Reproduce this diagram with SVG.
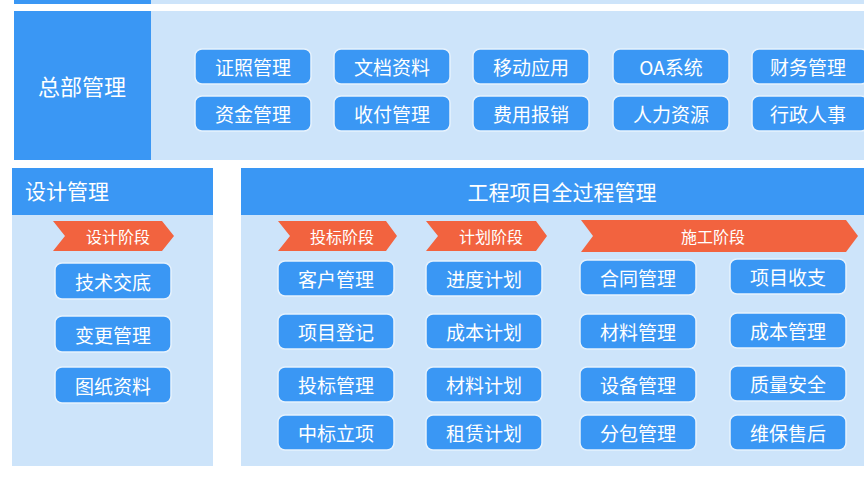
<svg xmlns="http://www.w3.org/2000/svg" width="864" height="486" viewBox="0 0 864 486">
<style>
.blue{fill:#3a97f4}.light{fill:#cde4fa}
.btn rect{fill:#3a97f4;stroke:#e6f2fd;stroke-width:1.5}
.btn text,.t{font-family:"Noto Sans CJK SC",sans-serif;fill:#fff;text-anchor:middle;dominant-baseline:central}
.btn text{font-size:19px}
.arr{fill:#f2633f}
</style>
<rect width="864" height="486" fill="#fff"/>
<rect x="151" y="0" width="713" height="4" class="light"/>
<rect x="14" y="0" width="137" height="4" class="blue"/>
<g id="hq">
<rect x="151" y="11" width="713" height="149" class="light"/>
<rect x="14" y="11" width="137" height="149" class="blue"/>
<text class="t" x="82" y="85" font-size="22">总部管理</text>
<g class="btn">
<rect x="195" y="49" width="116" height="35" rx="7"/><text x="253" y="66.5">证照管理</text>
<rect x="334" y="49" width="116" height="35" rx="7"/><text x="392" y="66.5">文档资料</text>
<rect x="473" y="49" width="116" height="35" rx="7"/><text x="531" y="66.5">移动应用</text>
<rect x="613" y="49" width="116" height="35" rx="7"/><text x="671" y="66.5">OA系统</text>
<rect x="752" y="49" width="116" height="35" rx="7"/><text x="808" y="66.5">财务管理</text>
<rect x="195" y="96" width="116" height="35" rx="7"/><text x="253" y="113.5">资金管理</text>
<rect x="334" y="96" width="116" height="35" rx="7"/><text x="392" y="113.5">收付管理</text>
<rect x="473" y="96" width="116" height="35" rx="7"/><text x="531" y="113.5">费用报销</text>
<rect x="613" y="96" width="116" height="35" rx="7"/><text x="671" y="113.5">人力资源</text>
<rect x="752" y="96" width="116" height="35" rx="7"/><text x="808" y="113.5">行政人事</text>
</g>
</g>
<g id="design">
<rect x="12" y="168" width="201" height="298" class="light"/>
<rect x="12" y="168" width="201" height="47" class="blue"/>
<text class="t" x="25" y="190" font-size="21" text-anchor="start" style="text-anchor:start">设计管理</text>
<polygon class="arr" points="53,221 162,221 174,236 162,251 53,251 65,236"/>
<text class="t" x="118" y="236" font-size="16">设计阶段</text>
<g class="btn">
<rect x="55" y="263" width="116" height="36" rx="7"/><text x="113" y="281">技术交底</text>
<rect x="55" y="316" width="116" height="36" rx="7"/><text x="113" y="334">变更管理</text>
<rect x="55" y="367" width="116" height="36" rx="7"/><text x="113" y="385">图纸资料</text>
</g>
</g>
<g id="project">
<rect x="241" y="168" width="623" height="298" class="light"/>
<rect x="241" y="168" width="623" height="47" class="blue"/>
<text class="t" x="562" y="191" font-size="21">工程项目全过程管理</text>
<polygon class="arr" points="278,221 386,221 397,236 386,251 278,251 290,236"/>
<text class="t" x="342" y="236" font-size="16">投标阶段</text>
<polygon class="arr" points="426,221 536,221 547,236 536,251 426,251 438,236"/>
<text class="t" x="491" y="236" font-size="16">计划阶段</text>
<polygon class="arr" points="581,220 846,220 858,236 846,252 581,252 593,236"/>
<text class="t" x="713" y="236" font-size="16">施工阶段</text>
<g class="btn">
<rect x="278" y="261" width="116" height="35" rx="7"/><text x="336" y="278.5">客户管理</text>
<rect x="278" y="314" width="116" height="35" rx="7"/><text x="336" y="331.5">项目登记</text>
<rect x="278" y="367" width="116" height="35" rx="7"/><text x="336" y="384.5">投标管理</text>
<rect x="278" y="415" width="116" height="35" rx="7"/><text x="336" y="432.5">中标立项</text>
<rect x="426" y="261" width="116" height="35" rx="7"/><text x="484" y="278.5">进度计划</text>
<rect x="426" y="314" width="116" height="35" rx="7"/><text x="484" y="331.5">成本计划</text>
<rect x="426" y="367" width="116" height="35" rx="7"/><text x="484" y="384.5">材料计划</text>
<rect x="426" y="415" width="116" height="35" rx="7"/><text x="484" y="432.5">租赁计划</text>
<rect x="580" y="260" width="116" height="35" rx="7"/><text x="638" y="277.5">合同管理</text>
<rect x="580" y="314" width="116" height="35" rx="7"/><text x="638" y="331.5">材料管理</text>
<rect x="580" y="367" width="116" height="35" rx="7"/><text x="638" y="384.5">设备管理</text>
<rect x="580" y="415" width="116" height="35" rx="7"/><text x="638" y="432.5">分包管理</text>
<rect x="730" y="259" width="116" height="35" rx="7"/><text x="788" y="276.5">项目收支</text>
<rect x="730" y="313" width="116" height="35" rx="7"/><text x="788" y="330.5">成本管理</text>
<rect x="730" y="366" width="116" height="35" rx="7"/><text x="788" y="383.5">质量安全</text>
<rect x="730" y="415" width="116" height="35" rx="7"/><text x="788" y="432.5">维保售后</text>
</g>
</g>
<g id="connectors"/>
</svg>
